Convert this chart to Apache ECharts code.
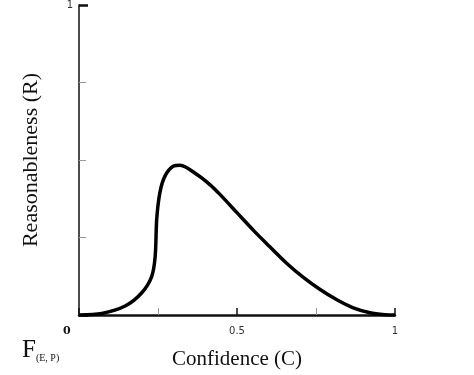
<!DOCTYPE html>
<html>
<head>
<meta charset="utf-8">
<script src="https://cdn.jsdelivr.net/npm/echarts@6/dist/echarts.min.js"></script>
<style>html,body{margin:0;padding:0;background:#fff}#c{width:474px;height:375px}</style>
</head>
<body>
<div id="c"></div>
<script>
var confidence = [0, 0.072, 0.146, 0.198, 0.230, 0.241, 0.246, 0.256, 0.272, 0.298, 0.320, 0.372, 0.415, 0.446, 0.499, 0.552, 0.604, 0.657, 0.710, 0.763, 0.816, 0.868, 0.921, 0.968, 1.0];
var reasonableness = [0, 0.005, 0.029, 0.071, 0.124, 0.188, 0.310, 0.395, 0.448, 0.480, 0.483, 0.454, 0.420, 0.389, 0.331, 0.273, 0.220, 0.167, 0.121, 0.082, 0.049, 0.023, 0.007, 0.001, 0];
var xTickLabels = ['0.5', '1'];
var yTickLabels = ['1'];

var serif = '"Liberation Serif", "DejaVu Serif", serif';
var chart = echarts.init(document.getElementById('c'), null, {renderer: 'canvas'});
var pts = confidence.map(function (x, i) { return [x, reasonableness[i]]; });
chart.setOption({
  animation: false,
  backgroundColor: '#fff',
  grid: {left: 79, right: 79, top: 5, bottom: 56},
  xAxis: {
    type: 'value', min: 0, max: 1, interval: 0.5,
    name: 'Confidence (C)', nameLocation: 'middle', nameGap: 34,
    nameTextStyle: {fontFamily: serif, fontSize: 21, color: '#111'},
    axisLine: {lineStyle: {color: '#111', width: 2.5}},
    axisTick: {show: true, inside: true, length: 7, lineStyle: {color: '#111', width: 1.5}},
    minorTick: {show: true, splitNumber: 2, length: 7, lineStyle: {color: '#999', width: 1}},
    splitLine: {show: false},
    axisLabel: {
      fontFamily: 'DejaVu Sans', fontSize: 10, color: '#333', margin: 11,
      formatter: function (v) { var s = String(v); return xTickLabels.indexOf(s) >= 0 ? s : ''; }
    }
  },
  yAxis: {
    type: 'value', min: 0, max: 1, interval: 1,
    name: 'Reasonableness (R)', nameLocation: 'middle', nameGap: 37, nameRotate: 90,
    nameTextStyle: {fontFamily: serif, fontSize: 22, color: '#111'},
    axisLine: {lineStyle: {color: '#111', width: 1.5}},
    axisTick: {show: true, inside: true, length: 9, lineStyle: {color: '#111', width: 2.5}},
    minorTick: {show: true, splitNumber: 4, length: 7, lineStyle: {color: '#999', width: 1}},
    splitLine: {show: false},
    axisLabel: {
      fontFamily: 'DejaVu Sans', fontSize: 10, color: '#333', margin: 6,
      formatter: function (v) { var s = String(v); return yTickLabels.indexOf(s) >= 0 ? s : ''; }
    }
  },
  graphic: [
    {type: 'text', left: 63, top: 326, style: {text: '0', font: 'bold 11px "DejaVu Serif"', fill: '#111'}},
    {type: 'text', left: 22, top: 338, style: {
      text: '{f|F}{s|(E, P)}',
      rich: {
        f: {fontFamily: serif, fontSize: 25, fill: '#111', verticalAlign: 'bottom'},
        s: {fontFamily: serif, fontSize: 10, fill: '#111', padding: [22, 0, 0, 0], verticalAlign: 'bottom'}
      }
    }}
  ],
  series: [{
    type: 'line', data: pts, smooth: 0.3, showSymbol: false,
    lineStyle: {color: '#000', width: 3.5}
  }]
});
</script>
</body>
</html>
